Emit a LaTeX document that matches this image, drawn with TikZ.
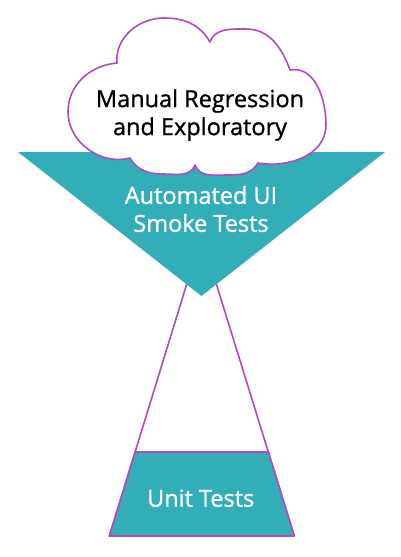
\documentclass[tikz,border=0pt]{standalone}
\usepackage{fontspec}
\setmainfont{Open Sans}[UprightFeatures={FakeBold=1}]
\definecolor{teal1}{RGB}{50,174,184}
\definecolor{purp}{RGB}{180,72,190}
\begin{document}
\begin{tikzpicture}[x=1pt,y=1pt,
  stroke/.style={draw=purp,line width=1.6pt,line join=round},
  lbl/.style={font=\fontsize{23.5}{28}\selectfont,align=center,inner sep=0pt}]
\useasboundingbox (0,0) rectangle (400,-557);
% pyramid
\coordinate (pa) at (201.5,-236);
\coordinate (pl) at (109.3,-536);
\coordinate (pr) at (294.3,-536);
\coordinate (tl) at (135.2,-452);
\coordinate (tr) at (268.4,-452);
\draw[stroke,fill=white] (pa) -- (pl) -- (pr) -- cycle;
\draw[stroke,fill=teal1] (tl) -- (pl) -- (pr) -- (tr) -- cycle;
% inverted triangle
\fill[teal1] (18,-152) -- (385,-152) -- (201.5,-296) -- cycle;
% cloud
\draw[stroke,fill=white] (130,-158)
 to[out=195,in=270] (68,-112)
 to[out=90,in=185] (117,-63)
 to[out=95,in=180] (164,-18)
 to[out=0,in=120] (210,-42)
 to[out=70,in=180] (246,-29)
 to[out=0,in=110] (290,-70)
 to[out=10,in=90] (326,-125)
 to[out=270,in=-10] (258,-163)
 to[out=240,in=0] (227,-175)
 to[out=180,in=290] (195,-165)
 to[out=250,in=0] (163,-174)
 to[out=180,in=300] (130,-158) -- cycle;
\node[lbl,text=black] (manual) at (200,-115) {Manual Regression\\and Exploratory};
\node[lbl,text=white] (auto) at (201,-209) {Automated UI\\Smoke Tests};
\node[lbl,text=white,anchor=base] (unit) at (200.7,-506.7) {Unit Tests};
\end{tikzpicture}
\end{document}
